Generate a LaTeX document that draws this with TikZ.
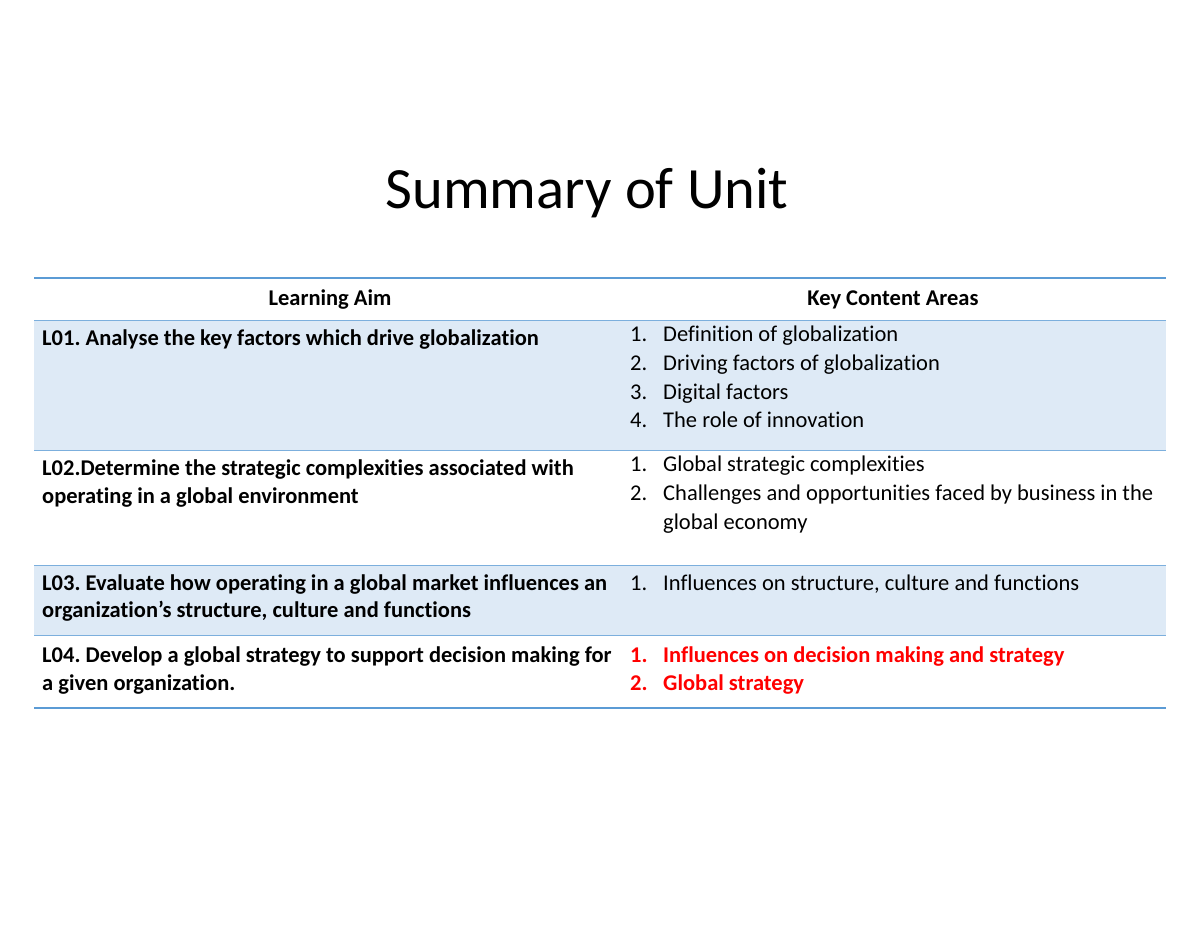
\documentclass[tikz,border=0pt]{standalone}
\usepackage{fontspec}
\setmainfont{Carlito}[Ligatures=NoCommon]
\frenchspacing
\definecolor{rule}{HTML}{5B9BD5}
\definecolor{band}{HTML}{DEEAF6}
\definecolor{redtxt}{HTML}{FF0000}
\begin{document}
\begin{tikzpicture}[x=1pt,y=-1pt,
  txt/.style={anchor=base west,inner sep=0pt,font=\fontsize{22.5}{24}\selectfont},
  aim/.style={txt,font=\fontsize{22.5}{24}\selectfont\bfseries},
  hdr/.style={anchor=base,inner sep=0pt,font=\fontsize{22.5}{24}\selectfont\bfseries},
  rl/.style={draw=rule,line width=1.5pt},
  thin/.style={draw=rule!80!white,line width=0.6pt}]
\useasboundingbox (0,0) rectangle (1200,927);
\fill[band] (34,320) rectangle (1166,450);
\fill[band] (34,565) rectangle (1166,635);
\draw[rl] (34,278) -- (1166,278);
\draw[thin] (34,320) -- (1166,320);
\draw[thin] (34,450) -- (1166,450);
\draw[thin] (34,565) -- (1166,565);
\draw[thin] (34,635) -- (1166,635);
\draw[rl] (34,708) -- (1166,708);
\node[anchor=base,inner sep=0pt,font=\fontsize{58.5}{60}\selectfont] (title) at (587,208) {Summary of Unit};
\node[hdr] (h1) at (330,305) {Learning Aim};
\node[hdr] (h2) at (893,305) {Key Content Areas};
\node[aim] (a1) at (42,345) {L01. Analyse the key factors which drive globalization};
\node[aim] (a2) at (42,475) {L02.Determine the strategic complexities associated with};
\node[aim] (a2b) at (42,503) {operating in a global environment};
\node[aim] (a3) at (42,590) {L03. Evaluate how operating in a global market influences an};
\node[aim] (a3b) at (42,617) {organization’s structure, culture and functions};
\node[aim] (a4) at (42,662) {L04. Develop a global strategy to support decision making for};
\node[aim] (a4b) at (42,690) {a given organization.};
\foreach \n/\y/\t in {1/341/Definition of globalization,2/370/Driving factors of globalization,3/399/Digital factors,4/427/The role of innovation}{
  \node[txt] (n1\n) at (630,\y) {\n.};
  \node[txt] (k1\n) at (663,\y) {\t};}
\node[txt] (n21) at (630,471) {1.};
\node[txt] (k21) at (663,471) {Global strategic complexities};
\node[txt] (n22) at (630,500) {2.};
\node[txt] (k22) at (663,500) {Challenges and opportunities faced by business in the};
\node[txt] (k22b) at (663,529) {global economy};
\node[txt] (n31) at (630,590) {1.};
\node[txt] (k31) at (663,590) {Influences on structure, culture and functions};
\node[aim,text=redtxt] (n41) at (630,662) {1.};
\node[aim,text=redtxt] (k41) at (663,662) {Influences on decision making and strategy};
\node[aim,text=redtxt] (n42) at (630,690) {2.};
\node[aim,text=redtxt] (k42) at (663,690) {Global strategy};
\end{tikzpicture}
\end{document}
